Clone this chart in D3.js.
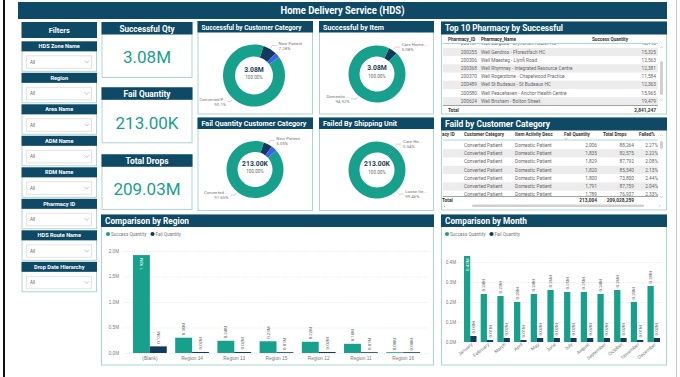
<!DOCTYPE html>
<html>
<head>
<meta charset="utf-8">
<script src="https://cdn.jsdelivr.net/npm/d3@7"></script>
<style>
  body { margin: 0; background: #fff; }
  svg { display: block; font-family: Roboto, "Noto Sans", sans-serif; }
</style>
</head>
<body>
<svg id="dash" width="680" height="377"></svg>
<script>
// ---- data ----
const filterNames = ['HDS Zone Name', 'Region', 'Area Name', 'ADM Name', 'RDM Name', 'Pharmacy ID', 'HDS Route Name', 'Drop Date Hierarchy'];
const kpiNames = ['Successful Qty', 'Fail Quantity', 'Total Drops'];
const kpiValues = ['3.08M', '213.00K', '209.03M'];

const custLabels = ['New Patient', '', 'Converted P...'];
const custSuccessPct = [7.28, 2.62, 90.1];
const itemLabels = ['Care Home...', 'Domestic ...'];
const itemSuccessPct = [5.08, 94.92];
const custFailLabels = ['New Patient', '', 'Converted ...'];
const custFailPct = [5.05, 3.30, 91.65];
const shipLabels = ['Care Ho...', 'Loose Ite...'];
const shipFailPct = [0.54, 99.46];

const topIds = ['200187', '200255', '200306', '200368', '200370', '200489', '200580', '200624'];
const topNames = ['Well Bargoed - Bryntirion Health HC', 'Well Gendros - Fforestfach HC', 'Well Maesteg - Llynfi Road', 'Well Rhymney - Integrated Resource Centre', 'Well Rogerstone - Chapelwood Practice', 'Well St Budeaux - St Budeaux HC', 'Well Peacehaven - Anchor Health Centre', 'Well Brixham - Bolton Street'];
const topQty = ['13,140', '15,325', '12,563', '12,381', '11,584', '12,363', '15,965', '19,479'];
const topTotal = '2,841,247';

const failFailQty = ['2,006', '1,835', '1,829', '1,820', '1,800', '1,791', '1,789'];
const failDrops = ['88,264', '82,575', '87,792', '85,540', '73,800', '87,759', '76,937'];
const failPct = ['2.27%', '2.22%', '2.08%', '2.13%', '2.44%', '2.04%', '2.33%'];
const failTotals = ['213,004', '209,028,259'];

const regions = ['(Blank)', 'Region 14', 'Region 13', 'Region 15', 'Region 12', 'Region 11', 'Region 16'];
const regionSuccess = [1.92, 0.30, 0.24, 0.23, 0.22, 0.18, 0.004];
const regionFail = [0.13, 0.02, 0.02, 0.01, 0.02, 0.01, 0.002];
const regionTicks = [0, 0.5, 1.0, 1.5, 2.0];

const months = ['January', 'February', 'March', 'April', 'May', 'June', 'July', 'August', 'September', 'October', 'November', 'December'];
const monthSuccess = [0.43, 0.24, 0.23, 0.20, 0.24, 0.26, 0.25, 0.25, 0.24, 0.26, 0.20, 0.28];
const monthFail = [0.03, 0.01, 0.02, 0.01, 0.02, 0.02, 0.02, 0.02, 0.02, 0.02, 0.01, 0.02];
const monthTicks = [0, 0.1, 0.2, 0.3, 0.4];

// ---- style ----
const TEAL = '#17a08b';
const NAVY = '#0e4966';
const DARK = '#123a5c';
const BLUE = '#3c60ee';
const BORDER = '#a9d8cf';
const GREY = '#666';

const svg = d3.select('#dash');

// page frame
svg.append('rect').attr('x', 3).attr('y', 0).attr('width', 2).attr('height', 377).attr('fill', '#111');
svg.append('line').attr('x1', 676.5).attr('x2', 676.5).attr('y1', 0).attr('y2', 377).attr('stroke', '#c8c8c8');

function box(x, y, w, h) {
  svg.append('rect')
    .attr('x', x + 0.5).attr('y', y + 0.5)
    .attr('width', w - 1).attr('height', h - 1)
    .attr('fill', '#fff').attr('stroke', BORDER);
}

function hdr(x, y, w, h, title, tw, fs, align) {
  svg.append('rect').attr('x', x).attr('y', y).attr('width', w).attr('height', h).attr('fill', NAVY);
  const t = svg.append('text')
    .attr('y', y + h / 2).attr('dy', '0.36em')
    .attr('fill', '#fff').attr('font-weight', 700).attr('font-size', fs)
    .text(title);
  if (align === 'center') t.attr('x', x + w / 2).attr('text-anchor', 'middle');
  else t.attr('x', x + 4);
  if (tw) t.attr('textLength', tw).attr('lengthAdjust', 'spacingAndGlyphs');
}

function panel(x, y, w, h, hh, title, tw, fs, align) {
  box(x, y, w, h);
  hdr(x, y, w, hh, title, tw, fs, align);
}

// title bar
hdr(18, 2, 649, 17, 'Home Delivery Service (HDS)', 124, 10.5, 'center');

// filters
hdr(21.5, 22, 75.5, 16, 'Filters', 21, 7.5, 'center');
filterNames.forEach((f, i) => {
  const y0 = 41.3 + i * 31.5;
  box(21.5, y0 + 9, 75.5, 21.5);
  hdr(21.5, y0, 75.5, 10, f, null, 5.6, 'center');
  svg.append('rect').attr('x', 26.5).attr('y', y0 + 14.5).attr('width', 65).attr('height', 12.5)
    .attr('fill', '#fff').attr('stroke', '#e3e3e3');
  svg.append('text').attr('x', 30).attr('y', y0 + 22.5).attr('font-size', 4.6).attr('fill', GREY).text('All');
  svg.append('path').attr('d', `M84.5,${y0 + 19.5}l2.2,2.2l2.2,-2.2`).attr('fill', 'none').attr('stroke', '#999').attr('stroke-width', 0.6);
});

// KPI cards
const kpiBoxes = [[22, 78], [87.3, 143.3], [154.3, 210]];
const kpiTitleW = [55, 47, 43];
kpiNames.forEach((k, i) => {
  const [y0, y1] = kpiBoxes[i];
  panel(101.5, y0, 91, y1 - y0, 12.5, k, kpiTitleW[i], 9.5, 'center');
  svg.append('text')
    .attr('x', 147).attr('y', (y0 + 12.5 + y1) / 2 + 1).attr('dy', '0.35em')
    .attr('text-anchor', 'middle').attr('font-size', 17).attr('fill', TEAL)
    .text(kpiValues[i]);
});

// donuts; labelPos[i] = [angle in degrees, horizontal elbow] or null for slice middle
function donut(cx, cy, rOut, rIn, values, labels, colors, startDeg, centerText, labelPos) {
  const a0 = startDeg * Math.PI / 180;
  const arcs = d3.pie().sort(null).startAngle(a0).endAngle(a0 + 2 * Math.PI)(values);
  const arc = d3.arc().innerRadius(rIn).outerRadius(rOut);
  const g = svg.append('g').attr('transform', `translate(${cx},${cy})`);
  g.selectAll('path.slice').data(arcs).join('path')
    .attr('class', 'slice').attr('d', arc).attr('fill', (d, i) => colors[i]);
  g.append('text').attr('y', -4).attr('text-anchor', 'middle').attr('font-size', 6.8)
    .attr('font-weight', 700).attr('fill', '#1d3b58').text(centerText);
  g.append('text').attr('y', 3.5).attr('text-anchor', 'middle').attr('font-size', 4.6)
    .attr('fill', GREY).text('100.00%');
  arcs.forEach((d, i) => {
    if (!labels[i]) return;
    const lp = labelPos[i];
    const ang = lp ? lp[0] * Math.PI / 180 : (d.startAngle + d.endAngle) / 2;
    const hl = lp ? lp[1] : 5;
    const side = Math.sin(ang) >= 0 ? 1 : -1;
    const p1 = [Math.sin(ang) * (rOut + 1), -Math.cos(ang) * (rOut + 1)];
    const p2 = [Math.sin(ang) * (rOut + 4), -Math.cos(ang) * (rOut + 4)];
    const p3 = [p2[0] + side * hl, p2[1]];
    g.append('path').attr('d', `M${p1}L${p2}L${p3}`).attr('fill', 'none').attr('stroke', '#aaa').attr('stroke-width', 0.5);
    const tx = p3[0] + side * 1.5;
    const t = g.append('text').attr('font-size', 4.4).attr('fill', '#777')
      .attr('text-anchor', side > 0 ? 'start' : 'end');
    t.append('tspan').attr('x', tx).attr('y', p3[1] - 1).text(labels[i]);
    t.append('tspan').attr('x', tx).attr('y', p3[1] + 4).text(values[i] + '%');
  });
}

panel(197.5, 21, 115.5, 93.5, 11.5, 'Successful by Customer Category', 100, 8, 'left');
panel(319, 21, 115, 93.5, 11.5, 'Successful by Item', 61, 8, 'left');
panel(197.5, 117.5, 115.5, 93.5, 11.5, 'Fail Quantity Customer Category', 105, 8, 'left');
panel(319, 117.5, 115, 93.5, 11.5, 'Failed By Shipping Unit', 74, 8, 'left');

donut(254, 75.5, 31, 19, custSuccessPct, custLabels, [DARK, BLUE, TEAL], 18, '3.08M', [null, null, [222, 3]]);
donut(377, 74, 28.5, 17.5, itemSuccessPct, itemLabels, [DARK, TEAL], 25, '3.08M', [null, [220, 5]]);
donut(255, 169.5, 28.5, 17.5, custFailPct, custFailLabels, [DARK, BLUE, TEAL], 18, '213.00K', [null, null, [218, 5]]);
donut(377, 170, 28.5, 17.5, shipFailPct, shipLabels, [DARK, TEAL], 36, '213.00K', [null, [138, 5]]);

// ---- top 10 table ----
panel(441, 21.5, 226, 93, 13, 'Top 10 Pharmacy by Successful', 118, 9.5, 'left');
{
  const head = svg.append('g').attr('font-size', 4.6).attr('font-weight', 700).attr('fill', '#333');
  head.append('text').attr('x', 448).attr('y', 40.5).text('Pharmacy_ID');
  head.append('text').attr('x', 481).attr('y', 40.5).text('Pharmacy_Name');
  head.append('text').attr('x', 592).attr('y', 40.5).text('Success Quantity');
  svg.append('line').attr('x1', 443).attr('x2', 658).attr('y1', 43.5).attr('y2', 43.5).attr('stroke', BORDER);
  svg.append('clipPath').attr('id', 'topClip').append('rect')
    .attr('x', 441).attr('y', 44).attr('width', 226).attr('height', 61);
  const rows = svg.append('g').attr('clip-path', 'url(#topClip)');
  const rh = 8.2;
  topIds.forEach((id, i) => {
    const cy = 43.8 + i * rh;
    if (i % 2 === 1) rows.append('rect').attr('x', 443).attr('y', cy - rh / 2).attr('width', 215).attr('height', rh).attr('fill', '#ececec');
    const r = rows.append('g').attr('font-size', 4.8).attr('fill', '#666');
    r.append('text').attr('x', 477).attr('y', cy).attr('dy', '0.35em').attr('text-anchor', 'end').text(id);
    r.append('text').attr('x', 481).attr('y', cy).attr('dy', '0.35em').text(topNames[i]);
    r.append('text').attr('x', 656).attr('y', cy).attr('dy', '0.35em').attr('text-anchor', 'end').text(topQty[i]);
  });
  svg.append('line').attr('x1', 443).attr('x2', 658).attr('y1', 105.5).attr('y2', 105.5).attr('stroke', '#444').attr('stroke-width', 0.5);
  svg.append('text').attr('x', 448).attr('y', 110).attr('dy', '0.35em').attr('font-size', 4.8).attr('font-weight', 700).attr('fill', '#333').text('Total');
  svg.append('text').attr('x', 656).attr('y', 110).attr('dy', '0.35em').attr('text-anchor', 'end').attr('font-size', 4.8).attr('font-weight', 700).attr('fill', '#333').text(topTotal);
  // scrollbar
  svg.append('rect').attr('x', 660).attr('y', 61).attr('width', 3).attr('height', 34).attr('rx', 1.5).attr('fill', '#d0d0d0');
  svg.append('path').attr('d', 'M660,48l1.5,-1.5l1.5,1.5').attr('fill', 'none').attr('stroke', '#aaa').attr('stroke-width', 0.5);
  svg.append('path').attr('d', 'M660,99l1.5,1.5l1.5,-1.5').attr('fill', 'none').attr('stroke', '#aaa').attr('stroke-width', 0.5);
}

// ---- failed table ----
panel(441, 117.5, 226, 93, 13, 'Faild by Customer Category', 105, 9.5, 'left');
{
  const head = svg.append('g').attr('font-size', 4.6).attr('font-weight', 700).attr('fill', '#333');
  head.append('text').attr('x', 442).attr('y', 136).text('acy ID');
  head.append('text').attr('x', 464).attr('y', 136).text('Customer Category');
  head.append('text').attr('x', 515).attr('y', 136).text('Item Activity Desc');
  head.append('text').attr('x', 564).attr('y', 136).text('Fail Quantity');
  head.append('text').attr('x', 603).attr('y', 136).text('Total Drops');
  head.append('text').attr('x', 639).attr('y', 136).text('Failed%');
  svg.append('path').attr('d', 'M565,138.5l1,1l1,-1').attr('fill', 'none').attr('stroke', '#333').attr('stroke-width', 0.5);
  svg.append('line').attr('x1', 443).attr('x2', 658).attr('y1', 140).attr('y2', 140).attr('stroke', BORDER);
  svg.append('clipPath').attr('id', 'failClip').append('rect')
    .attr('x', 441).attr('y', 140.5).attr('width', 226).attr('height', 56);
  const rows = svg.append('g').attr('clip-path', 'url(#failClip)');
  const rh = 8.3;
  failFailQty.forEach((q, i) => {
    const cy = 145 + i * rh;
    if (i % 2 === 1) rows.append('rect').attr('x', 443).attr('y', cy - rh / 2).attr('width', 215).attr('height', rh).attr('fill', '#ececec');
    const r = rows.append('g').attr('font-size', 4.8).attr('fill', '#666');
    r.append('text').attr('x', 464).attr('y', cy).attr('dy', '0.35em').text('Converted Patient');
    r.append('text').attr('x', 515).attr('y', cy).attr('dy', '0.35em').text('Domestic Patient');
    r.append('text').attr('x', 597).attr('y', cy).attr('dy', '0.35em').attr('text-anchor', 'end').text(q);
    r.append('text').attr('x', 634).attr('y', cy).attr('dy', '0.35em').attr('text-anchor', 'end').text(failDrops[i]);
    r.append('text').attr('x', 658).attr('y', cy).attr('dy', '0.35em').attr('text-anchor', 'end').text(failPct[i]);
  });
  svg.append('line').attr('x1', 443).attr('x2', 658).attr('y1', 196.5).attr('y2', 196.5).attr('stroke', '#444').attr('stroke-width', 0.5);
  const tot = svg.append('g').attr('font-size', 4.8).attr('font-weight', 700).attr('fill', '#333');
  tot.append('text').attr('x', 442).attr('y', 200.5).attr('dy', '0.35em').text('Total');
  tot.append('text').attr('x', 597).attr('y', 200.5).attr('dy', '0.35em').attr('text-anchor', 'end').text(failTotals[0]);
  tot.append('text').attr('x', 634).attr('y', 200.5).attr('dy', '0.35em').attr('text-anchor', 'end').text(failTotals[1]);
  // scrollbars
  svg.append('rect').attr('x', 472).attr('y', 204.5).attr('width', 172).attr('height', 2.6).attr('rx', 1.3).attr('fill', '#d0d0d0');
  svg.append('path').attr('d', 'M445,204.5l-1.3,1.3l1.3,1.3').attr('fill', 'none').attr('stroke', '#aaa').attr('stroke-width', 0.5);
  svg.append('path').attr('d', 'M659,204.5l1.3,1.3l-1.3,1.3').attr('fill', 'none').attr('stroke', '#aaa').attr('stroke-width', 0.5);
  svg.append('rect').attr('x', 660).attr('y', 141).attr('width', 3).attr('height', 8).attr('rx', 1.5).attr('fill', '#d0d0d0');
  svg.append('path').attr('d', 'M660,136l1.5,-1.5l1.5,1.5').attr('fill', 'none').attr('stroke', '#aaa').attr('stroke-width', 0.5);
  svg.append('path').attr('d', 'M660,196l1.5,1.5l1.5,-1.5').attr('fill', 'none').attr('stroke', '#aaa').attr('stroke-width', 0.5);
}

// ---- grouped bar charts ----
function legend(x, y) {
  const g = svg.append('g').attr('font-size', 4.6).attr('fill', '#777');
  g.append('circle').attr('cx', x).attr('cy', y).attr('r', 2.1).attr('fill', TEAL);
  g.append('text').attr('x', x + 3).attr('y', y).attr('dy', '0.35em').text('Success Quantity');
  g.append('circle').attr('cx', x + 44.5).attr('cy', y).attr('r', 2.1).attr('fill', DARK);
  g.append('text').attr('x', x + 47.5).attr('y', y).attr('dy', '0.35em').text('Fail Quantity');
}

function barChart(o) {
  const x = d3.scaleBand().domain(o.cats).range([o.bx0, o.bx1]).paddingInner(o.pad);
  const xs = d3.scaleBand().domain([0, 1]).range([0, x.bandwidth()]);
  const y = d3.scaleLinear().domain([0, o.yMax]).range([o.y0, o.y1]);

  const ax = svg.append('g').attr('transform', `translate(${o.gx0},0)`)
    .call(d3.axisLeft(y).tickValues(o.ticks).tickSize(-(o.gx1 - o.gx0)).tickPadding(o.tickPad)
      .tickFormat(d => d.toFixed(1) + 'M'));
  ax.select('.domain').remove();
  ax.selectAll('line').attr('stroke', '#d9d9d9').attr('stroke-dasharray', '1 1.5').attr('stroke-width', 0.6);
  ax.selectAll('text').attr('font-size', 4.6).attr('fill', '#777').attr('font-family', null);

  const xa = svg.append('g').attr('transform', `translate(0,${o.y0})`)
    .call(d3.axisBottom(x).tickSize(0).tickPadding(o.xPad));
  xa.select('.domain').remove();
  xa.selectAll('text').attr('font-size', 4.8).attr('fill', '#777').attr('font-family', null);
  if (o.rotate) {
    xa.selectAll('text').attr('text-anchor', 'end').attr('dy', '0.2em')
      .attr('transform', `rotate(${o.rotate})`);
  }

  const series = [o.s1, o.s2];
  const cols = [TEAL, DARK];
  const maxV = d3.max(o.s1);
  series.forEach((s, k) => {
    svg.append('g').selectAll('rect').data(s).join('rect')
      .attr('x', (d, i) => x(o.cats[i]) + xs(k))
      .attr('width', xs.bandwidth())
      .attr('y', d => Math.min(y(d), o.y0 - 0.8))
      .attr('height', d => Math.max(o.y0 - y(d), 0.8))
      .attr('fill', cols[k]);
    svg.append('g').selectAll('text').data(s).join('text')
      .each(function (d, i) {
        const inside = d > maxV * 0.75;
        const cx = x(o.cats[i]) + xs(k) + xs.bandwidth() / 2;
        const ty = inside ? y(d) + 2.5 : y(d) - 2.5;
        d3.select(this)
          .attr('transform', `translate(${cx},${ty}) rotate(-90)`)
          .attr('dy', '0.35em')
          .attr('text-anchor', inside ? 'end' : 'start')
          .attr('font-size', 4.4)
          .attr('fill', inside ? '#fff' : '#666')
          .text(d.toFixed(2) + 'M');
      });
  });
}

panel(101, 214.5, 333, 151, 12.5, 'Comparison by Region', 84, 9.5, 'left');
legend(108, 234);
barChart({
  cats: regions, s1: regionSuccess, s2: regionFail,
  bx0: 133, bx1: 420, pad: 0.2, y0: 353, y1: 251, yMax: 2.0,
  ticks: regionTicks, gx0: 124, gx1: 428, tickPad: 5, xPad: 4
});

panel(441, 214.5, 226, 151, 12.5, 'Comparison by Month', 82, 9.5, 'left');
legend(447, 234);
barChart({
  cats: months, s1: monthSuccess, s2: monthFail,
  bx0: 464, bx1: 660, pad: 0.25, y0: 342, y1: 262, yMax: 0.4,
  ticks: monthTicks, gx0: 458, gx1: 663, tickPad: 2, xPad: 3, rotate: -40
});
</script>
</body>
</html>
